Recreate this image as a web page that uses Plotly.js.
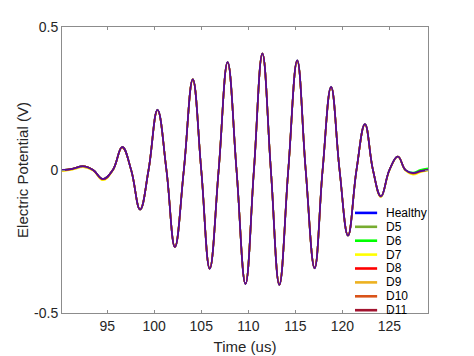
<!DOCTYPE html>
<html>
<head>
<meta charset="utf-8">
<script src="https://cdn.plot.ly/plotly-3.0.1.min.js"></script>
<style>html,body{margin:0;padding:0;background:#fff;}#chart{width:474px;height:356px;}</style>
</head>
<body>
<div id="chart"></div>
<script>
const time = [90.2, 91.3, 92.45, 93.5, 94.55, 95.6, 96.6, 97.55, 98.5, 99.4, 100.35, 101.3, 102.2, 103.15, 104.1, 105.0, 105.9, 106.85, 107.8, 108.75, 109.7, 110.6, 111.5, 112.4, 113.3, 114.25, 115.2, 116.1, 117.05, 117.9, 118.8, 119.7, 120.6, 121.5, 122.4, 123.25, 124.1, 125.0, 125.9, 126.7, 127.5, 128.3, 129.1];

const healthy = [0.0, 0.004, 0.013, 0.0, -0.031, 0.0, 0.081, 0.0, -0.139, 0.0, 0.211, 0.0, -0.270, 0.0, 0.318, 0.0, -0.346, 0.0, 0.378, 0.0, -0.399, 0.0, 0.408, 0.0, -0.402, 0.0, 0.384, 0.0, -0.344, 0.0, 0.291, 0.0, -0.230, 0.0, 0.161, 0.0, -0.092, 0.0, 0.047, 0.0, -0.010, -0.004, 0.0];
const d5 = [0.0, 0.004, 0.013, 0.0, -0.032, 0.0, 0.080, 0.0, -0.138, 0.0, 0.210, 0.0, -0.269, 0.0, 0.317, 0.0, -0.345, 0.0, 0.377, 0.0, -0.398, 0.0, 0.407, 0.0, -0.401, 0.0, 0.383, 0.0, -0.343, 0.0, 0.290, 0.0, -0.229, 0.0, 0.160, 0.0, -0.092, 0.0, 0.047, 0.0, -0.011, -0.003, 0.002];
const d6 = [0.0, 0.004, 0.013, 0.0, -0.032, 0.0, 0.080, 0.0, -0.138, 0.0, 0.210, 0.0, -0.269, 0.0, 0.317, 0.0, -0.345, 0.0, 0.377, 0.0, -0.398, 0.0, 0.407, 0.0, -0.401, 0.0, 0.383, 0.0, -0.343, 0.0, 0.290, 0.0, -0.229, 0.0, 0.160, 0.0, -0.092, 0.0, 0.047, 0.0, -0.009, 0.001, 0.006];
const d7 = [-0.004, 0.001, 0.010, -0.002, -0.036, -0.002, 0.079, 0.0, -0.139, 0.0, 0.210, 0.0, -0.269, 0.0, 0.317, 0.0, -0.345, 0.0, 0.377, 0.0, -0.398, 0.0, 0.407, 0.0, -0.401, 0.0, 0.383, 0.0, -0.343, 0.0, 0.290, 0.0, -0.229, 0.0, 0.160, 0.0, -0.095, -0.002, 0.046, -0.002, -0.016, -0.008, -0.002];
const d8 = [0.0, 0.004, 0.013, 0.0, -0.032, 0.0, 0.080, 0.0, -0.138, 0.0, 0.210, 0.0, -0.269, 0.0, 0.317, 0.0, -0.345, 0.0, 0.377, 0.0, -0.398, 0.0, 0.407, 0.0, -0.401, 0.0, 0.383, 0.0, -0.343, 0.0, 0.290, 0.0, -0.229, 0.0, 0.160, 0.0, -0.092, 0.0, 0.047, 0.0, -0.011, -0.004, 0.0];
const d9 = [-0.003, 0.002, 0.011, -0.001, -0.034, -0.001, 0.080, 0.0, -0.139, 0.0, 0.210, 0.0, -0.269, 0.0, 0.317, 0.0, -0.345, 0.0, 0.377, 0.0, -0.398, 0.0, 0.407, 0.0, -0.401, 0.0, 0.383, 0.0, -0.343, 0.0, 0.290, 0.0, -0.229, 0.0, 0.160, 0.0, -0.094, -0.001, 0.046, -0.001, -0.014, -0.006, -0.001];
const d10 = [0.0, 0.004, 0.013, 0.0, -0.032, 0.0, 0.080, 0.0, -0.138, 0.0, 0.210, 0.0, -0.269, 0.0, 0.317, 0.0, -0.345, 0.0, 0.377, 0.0, -0.398, 0.0, 0.407, 0.0, -0.401, 0.0, 0.383, 0.0, -0.343, 0.0, 0.290, 0.0, -0.229, 0.0, 0.160, 0.0, -0.092, 0.0, 0.047, 0.0, -0.012, -0.005, 0.0];
const d11 = [0.0, 0.004, 0.013, 0.0, -0.032, 0.0, 0.080, 0.0, -0.138, 0.0, 0.210, 0.0, -0.269, 0.0, 0.317, 0.0, -0.345, 0.0, 0.377, 0.0, -0.398, 0.0, 0.407, 0.0, -0.401, 0.0, 0.383, 0.0, -0.343, 0.0, 0.290, 0.0, -0.229, 0.0, 0.160, 0.0, -0.092, 0.0, 0.047, 0.0, -0.011, -0.004, 0.0];

const seriesNames = ['Healthy', 'D5', 'D6', 'D7', 'D8', 'D9', 'D10', 'D11'];
const seriesValues = [healthy, d5, d6, d7, d8, d9, d10, d11];
const seriesColors = ['#0000FF', '#77AC30', '#00FF00', '#FFFF00', '#FF0000', '#EDB120', '#D95319', '#A2142F'];
const xTicks = [95, 100, 105, 110, 115, 120, 125];
const yTicks = [-0.5, 0, 0.5];

const FONT = 'Liberation Sans, Arial, sans-serif';

// Damaged cases drawn first; the healthy trace lies semi-transparent on top,
// giving the blended purple look of the overlapping curves.
const drawOrder = [1, 2, 3, 4, 5, 6, 7, 0];
const traces = drawOrder.map(i => ({
  type: 'scatter', mode: 'lines', name: seriesNames[i], showlegend: false,
  x: time, y: seriesValues[i],
  line: {color: i === 0 ? 'rgba(0,0,255,0.5)' : seriesColors[i], width: i === 0 ? 1.8 : 1.6,
    shape: 'spline', smoothing: 1.2}
}));

// Compact MATLAB-style legend inside the axes (bottom right)
const legTop = 0.35, legStep = 0.0486, legX0 = 0.8005, legX1 = 0.861, legTextX = 0.880;
const shapes = [], annotations = [];
seriesNames.forEach((name, i) => {
  const yy = legTop - i * legStep;
  shapes.push({type: 'line', xref: 'paper', yref: 'paper', x0: legX0, x1: legX1, y0: yy, y1: yy,
    line: {color: seriesColors[i], width: 2.6}});
  annotations.push({xref: 'paper', yref: 'paper', x: legTextX, y: yy, xanchor: 'left', yanchor: 'middle',
    text: name, showarrow: false, font: {family: FONT, size: 12, color: '#000'}});
});

const axisCommon = {
  showline: true, linecolor: '#8c8c8c', linewidth: 1, mirror: 'ticks',
  ticks: 'inside', ticklen: 3, tickcolor: '#8c8c8c', showgrid: false, zeroline: false,
  tickfont: {family: FONT, size: 14, color: '#262626'}
};

const layout = {
  width: 474, height: 356,
  margin: {l: 62, r: 46, t: 27, b: 43},
  paper_bgcolor: '#fff', plot_bgcolor: '#fff',
  showlegend: false,
  shapes: shapes, annotations: annotations,
  xaxis: Object.assign({}, axisCommon, {range: [90.2, 129.1], tickvals: xTicks,
    title: {text: 'Time (us)', font: {family: FONT, size: 15, color: '#262626'}, standoff: 8}}),
  yaxis: Object.assign({}, axisCommon, {range: [-0.5, 0.5], tickvals: yTicks, ticktext: ['-0.5', '0', '0.5'],
    title: {text: 'Electric Potential (V)', font: {family: FONT, size: 15, color: '#262626'}, standoff: 1}})
};

Plotly.newPlot('chart', traces, layout, {displayModeBar: false, staticPlot: true});
</script>
</body>
</html>
